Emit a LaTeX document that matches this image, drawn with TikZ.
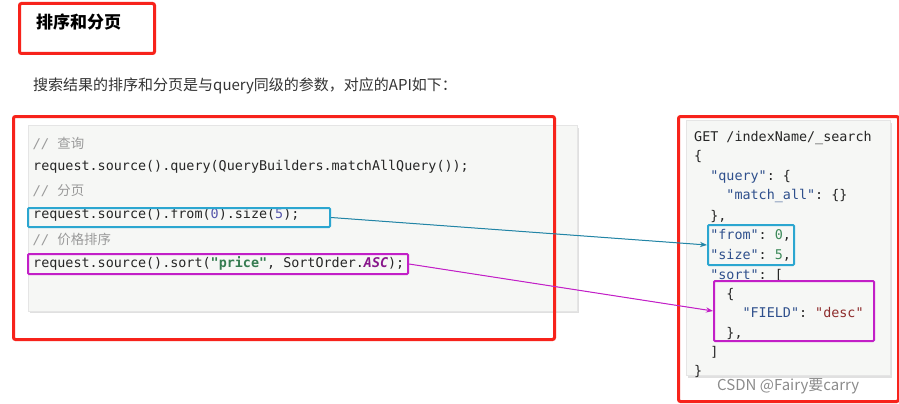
\documentclass[tikz,border=0pt]{standalone}
\usepackage{fontspec}
\setmonofont{DejaVu Sans Mono}
\newfontfamily\cjk{Noto Sans CJK SC}
\usetikzlibrary{arrows.meta}
\definecolor{redb}{HTML}{F7231B}
\definecolor{blueb}{HTML}{2BA6D0}
\definecolor{magb}{HTML}{C21FC7}
\definecolor{panel}{HTML}{F6F7F5}
\definecolor{keyc}{HTML}{2E4F8C}
\definecolor{numc}{HTML}{3C8A5A}
\definecolor{strc}{HTML}{8E2C2C}
\definecolor{cmt}{HTML}{9A9A9A}
\definecolor{lnum}{HTML}{5555AA}
\tikzset{
 redbox/.style={draw=redb,line width=3pt,rounded corners=2pt},
 codeline/.style={anchor=west,inner sep=0pt,font=\fontsize{13.4}{16}\selectfont\ttfamily,text=black!85},
 panelbox/.style={fill=panel,draw=black!10},
 hl/.style={line width=2pt,rounded corners=1pt},
 conn/.style={line width=1pt,-{Stealth[length=7pt]}},
}
\begin{document}
\begin{tikzpicture}[x=1pt,y=-1pt]
\useasboundingbox (0,0) rectangle (899,404);
\fill[white] (0,0) rectangle (899,404);
% title
\node[redbox,minimum width=135,minimum height=50,anchor=north west] (title) at (18,2) {};
\node[anchor=west,inner sep=0pt,font=\cjk\bfseries\fontsize{17}{20}\selectfont] (titletext) at (36,22) {排序和分页};
\node[anchor=west,inner sep=0pt,font=\cjk\fontsize{15}{18}\selectfont,text=black!80] (sub) at (33,86) {搜索结果的排序和分页是与query同级的参数，对应的API如下：};
% left panel
\fill[black!12] (30,128) rectangle (579,313);
\node[panelbox,minimum width=549,minimum height=186,anchor=north west] (lpanel) at (28,125) {};
\node[redbox,minimum width=541,minimum height=223,anchor=north west] (lred) at (12,115) {};
\node[codeline,text=cmt] (c1) at (33,143) {\itshape // {\cjk 查询}};
\node[codeline] (c2) at (33,167) {request.source().query(QueryBuilders.matchAllQuery());};
\node[codeline,text=cmt] (c3) at (33,191) {\itshape // {\cjk 分页}};
\node[codeline] (c4) at (33,215) {request.source().from(\textcolor{lnum}{0}).size(\textcolor{lnum}{5});};
\node[codeline,text=cmt] (c5) at (33,239) {\itshape // {\cjk 价格排序}};
\node[codeline] (c6) at (33,263) {request.source().sort(\textcolor{numc!90!black}{\bfseries"price"}, SortOrder.\textcolor{magb!70!black}{\bfseries\itshape ASC});};
\node[draw=blueb,hl,minimum width=302,minimum height=19,anchor=north west] (lblue) at (27,207) {};
\node[draw=magb,hl,minimum width=380,minimum height=20,anchor=north west] (lmag) at (27,253) {};
% right panel
\fill[black!12] (688,123) rectangle (892,378);
\node[panelbox,minimum width=204,minimum height=255,anchor=north west] (rpanel) at (686,120) {};
\node[redbox,minimum width=220,minimum height=285,anchor=north west] (rred) at (677,115) {};
\node[codeline] (r1) at (694,138) {GET /indexName/\_search};
\node[codeline] (r2) at (694,157) {\{};
\node[codeline] (r3) at (694,177) {\ \ \textcolor{keyc}{"query"}: \{};
\node[codeline] (r4) at (694,196) {\ \ \ \ \textcolor{keyc}{"match\_all"}: \{\}};
\node[codeline] (r5) at (694,216) {\ \ \},};
\node[codeline] (r6) at (694,235) {\ \ \textcolor{keyc}{"from"}: \textcolor{numc}{0},};
\node[codeline] (r7) at (694,255) {\ \ \textcolor{keyc}{"size"}: \textcolor{numc}{5},};
\node[codeline] (r8) at (694,275) {\ \ \textcolor{keyc}{"sort"}: [};
\node[codeline] (r9) at (694,294) {\ \ \ \ \{};
\node[codeline] (r10) at (694,313) {\ \ \ \ \ \ \textcolor{keyc}{"FIELD"}: \textcolor{strc}{"desc"}};
\node[codeline] (r11) at (694,333) {\ \ \ \ \},};
\node[codeline] (r12) at (694,352) {\ \ ]};
\node[codeline] (r13) at (694,371) {\}};
\node[draw=blueb,hl,minimum width=86,minimum height=40,anchor=north west] (rblue) at (707,224) {};
\node[draw=magb,hl,minimum width=160,minimum height=60,anchor=north west] (rmag) at (713,280) {};
\node[anchor=west,inner sep=0pt,font=\cjk\fontsize{15}{16}\selectfont,text=black!45] (wm) at (717,386) {CSDN @Fairy要carry};
% connectors
\draw[conn,draw=blueb!80!black,fill=blueb!80!black] (lblue.east) -- (rblue.west);
\draw[conn,draw=magb,fill=magb] (lmag.east) -- (rmag.west);
\end{tikzpicture}
\end{document}
